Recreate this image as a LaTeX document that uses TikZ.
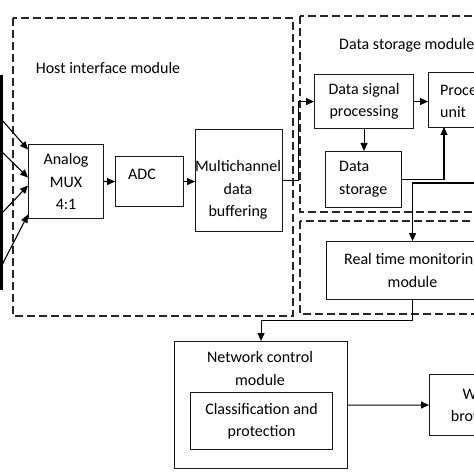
\documentclass[tikz,border=0pt]{standalone}
\usepackage{fontspec}
\setmainfont{Carlito}
\usetikzlibrary{arrows.meta}
\begin{document}
\begin{tikzpicture}[x=1bp,y=-1bp,
  blk/.style={draw=black!90, line width=1.1bp, inner sep=0pt, anchor=north west, font=\fontsize{16bp}{22.5bp}\selectfont, align=center},
  modbox/.style={draw=black!85, line width=1.2bp, dash pattern=on 8bp off 4bp},
  arr/.style={draw=black, line width=1.1bp, -{Triangle[length=8bp,width=7bp]}},
  lbl/.style={font=\fontsize{16bp}{22.5bp}\selectfont, inner sep=0pt},
]
\useasboundingbox (0,0) rectangle (474,474);

% dashed module frames
\draw[modbox] (13,18) rectangle (293,316);
\draw[modbox] (300,16) rectangle (490,212);
\draw[modbox] (300,221) rectangle (490,314);

\node[lbl] (hostt) at (108,68) {Host interface module};
\node[lbl, anchor=west] (dsmt) at (339,45) {Data storage module};

% left bus bar
\draw[line width=3bp] (1.5,75) -- (1.5,290);

% blocks
\node[blk, minimum width=75bp, minimum height=74bp] (mux) at (28,144) {Analog\\MUX\\4:1};
\node[blk, minimum width=68bp, minimum height=50bp] (adc) at (115,156) {};
\node[lbl] (adct) at (142,174) {ADC};
\node[blk, minimum width=87bp, minimum height=102bp] (buf) at (195,129) {};
\node[lbl, align=center] (buft) at (238,190) {Multichannel\\data\\buffering};

\node[blk, minimum width=99bp, minimum height=54bp] (dsp) at (314,74) {Data signal\\processing};
\node[blk, minimum width=110bp, minimum height=55bp] (pu) at (428,72) {};
\node[lbl, anchor=west, align=left] (put) at (440,101) {Processing\\unit};
\node[blk, minimum width=76bp, minimum height=56bp] (ds) at (325,151) {};
\node[lbl, anchor=west, align=left] (dst) at (339,179) {Data\\storage};

\node[blk, minimum width=172bp, minimum height=58bp] (rtm) at (326,241) {Real time monitoring\\module};

\node[blk, minimum width=173bp, minimum height=127bp] (net) at (174,341) {};
\node[lbl, align=center] (nett) at (260,368.5) {Network control\\module};
\node[blk, minimum width=142bp, minimum height=57bp] (cls) at (190,392) {Classification and\\protection};
\node[blk, minimum width=96bp, minimum height=61bp] (web) at (429,374) {Web\\browser};

% inputs
\coordinate (i1) at (2,120);
\coordinate (i2) at (2,152);
\coordinate (i3) at (2,213);
\coordinate (i4) at (2,265);
\draw[arr] (i1) -- ([yshift=32bp]mux.west);
\draw[arr] (i2) -- ([yshift=4bp]mux.west);
\draw[arr] (i3) -- ([yshift=-4bp]mux.west);
\draw[arr] (i4) -- ([yshift=-33bp]mux.west);

% connectors
\draw[arr] (mux.east) -- (adc.west);
\draw[arr] (adc.east) -- (buf.west |- adc.east);
\draw[arr] (buf.east) -- ++(15,0) |- (dsp.west);
\draw[arr] (dsp.east) -- (pu.west |- dsp.east);
\draw[arr] (dsp.south) -- (dsp.south |- ds.north);
\coordinate (pub) at (444,127);
\draw[arr] (ds.east) -| (pub);
\coordinate (rin) at (480,183);
\draw[arr] (rin) -| (rtm.north);
\draw[arr] (rtm.south) -- ++(0,20) -| (net.north);
\draw[arr] (net.east) -- (web.west);
\end{tikzpicture}
\end{document}
